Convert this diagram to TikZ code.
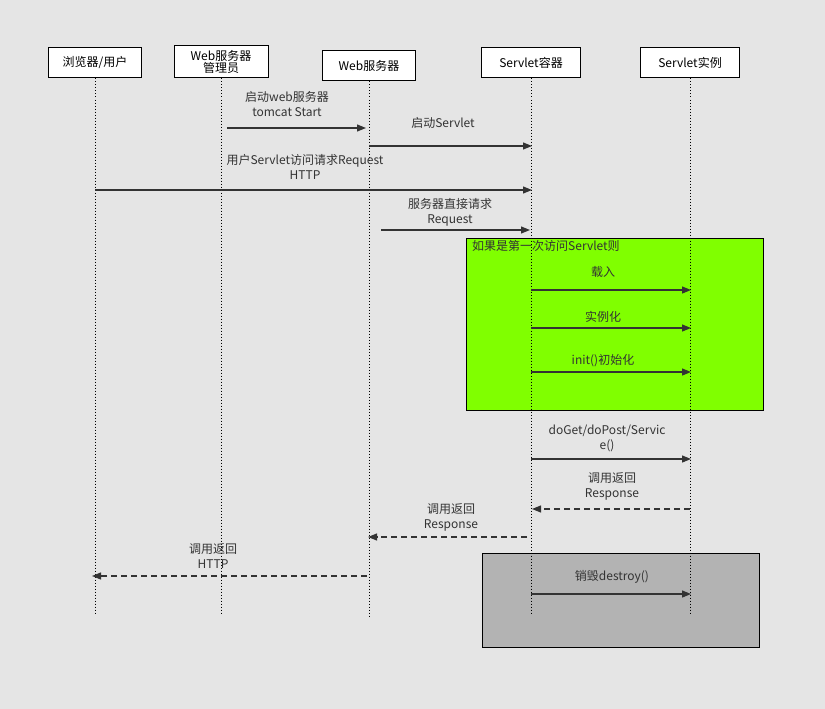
\documentclass[tikz,border=0pt]{standalone}
\usepackage{fontspec}
\setmainfont{Noto Sans CJK SC}
\usetikzlibrary{arrows.meta}
\definecolor{bg}{HTML}{E5E5E5}
\definecolor{ln}{HTML}{333333}
\definecolor{grn}{HTML}{80FF00}
\definecolor{gry}{HTML}{B3B3B3}
\begin{document}
\begin{tikzpicture}[x=1pt,y=-1pt,
  font=\fontsize{12}{14}\selectfont,
  hdr/.style={draw=black,fill=white,line width=1pt,align=center,inner sep=0pt,font=\fontsize{12}{12.5}\selectfont},
  life/.style={draw=black,line width=1pt,dotted},
  msg/.style={draw=ln,line width=1.2pt,-{Triangle[length=9pt,width=7pt]}},
  ret/.style={msg,dashed,dash pattern=on 6pt off 4pt},
  lbl/.style={align=center,inner sep=0pt,text=ln,font=\fontsize{12}{15}\selectfont}]
\fill[bg] (0,0) rectangle (825,709);
\useasboundingbox (0,0) rectangle (825,709);
% boxes
\node[draw=black,fill=grn,line width=1pt,minimum width=297pt,minimum height=172pt,anchor=north west,inner sep=0pt] (gbox) at (466,238) {};
\node[anchor=north west,inner sep=0pt,lbl] (gl) at (472,240) {如果是第一次访问Servlet则};
\node[draw=black,fill=gry,line width=1pt,minimum width=277pt,minimum height=94pt,anchor=north west,inner sep=0pt] (ybox) at (482,553) {};
% headers
\node[hdr,minimum width=93pt,minimum height=30pt] (h1) at (95,63) {浏览器/用户};
\node[hdr,minimum width=94pt,minimum height=32pt] (h2) at (221,62) {Web服务器\\管理员};
\node[hdr,minimum width=93pt,minimum height=30pt] (h3) at (369,66) {Web服务器};
\node[hdr,minimum width=99pt,minimum height=30pt] (h4) at (531,63) {Servlet容器};
\node[hdr,minimum width=99pt,minimum height=30pt] (h5) at (690,63) {Servlet实例};
\coordinate (e1) at (95,615); \coordinate (e2) at (221,615);
\coordinate (e3) at (369,618); \coordinate (e4) at (531,615); \coordinate (e5) at (690,615);
\draw[life] (h1.south) -- (e1); \draw[life] (h2.south) -- (e2);
\draw[life] (h3.south) -- (e3); \draw[life] (h4.south) -- (e4); \draw[life] (h5.south) -- (e5);
% message endpoints
\coordinate (a1) at (227,128); \coordinate (b1) at (366,128);
\coordinate (a2) at (369,146); \coordinate (b2) at (532,146);
\coordinate (a3) at (95,190); \coordinate (b3) at (532,190);
\coordinate (a4) at (381,230); \coordinate (b4) at (530,230);
\coordinate (a5) at (531,290); \coordinate (b5) at (691,290);
\coordinate (a6) at (531,328); \coordinate (b6) at (691,328);
\coordinate (a7) at (531,372); \coordinate (b7) at (691,372);
\coordinate (a8) at (531,459); \coordinate (b8) at (691,459);
\coordinate (a9) at (690,509); \coordinate (b9) at (532,509);
\coordinate (a10) at (527,537); \coordinate (b10) at (368,537);
\coordinate (a11) at (367,576); \coordinate (b11) at (92,576);
\coordinate (a12) at (531,594); \coordinate (b12) at (691,594);
\draw[msg] (a1) -- (b1); \draw[msg] (a2) -- (b2); \draw[msg] (a3) -- (b3);
\draw[msg] (a4) -- (b4); \draw[msg] (a5) -- (b5); \draw[msg] (a6) -- (b6);
\draw[msg] (a7) -- (b7); \draw[msg] (a8) -- (b8);
\draw[ret] (a9) -- (b9); \draw[ret] (a10) -- (b10); \draw[ret] (a11) -- (b11);
\draw[msg] (a12) -- (b12);
% labels
\node[lbl] (l1) at (287,104) {启动web服务器\\tomcat Start};
\node[lbl] (l2) at (443,123) {启动Servlet};
\node[lbl] (l3) at (305,167) {用户Servlet访问请求Request\\HTTP};
\node[lbl] (l4) at (450,212) {服务器直接请求\\Request};
\node[lbl] (l5) at (603,272) {载入};
\node[lbl] (l6) at (603,317) {实例化};
\node[lbl] (l7) at (603,361) {init()初始化};
\node[lbl] (l8) at (607,438) {doGet/doPost/Servic\\e()};
\node[lbl] (l9) at (612,486) {调用返回\\Response};
\node[lbl] (l10) at (451,517) {调用返回\\Response};
\node[lbl] (l11) at (213,556) {调用返回\\HTTP};
\node[lbl] (l12) at (612,577) {销毁destroy()};
\end{tikzpicture}
\end{document}
